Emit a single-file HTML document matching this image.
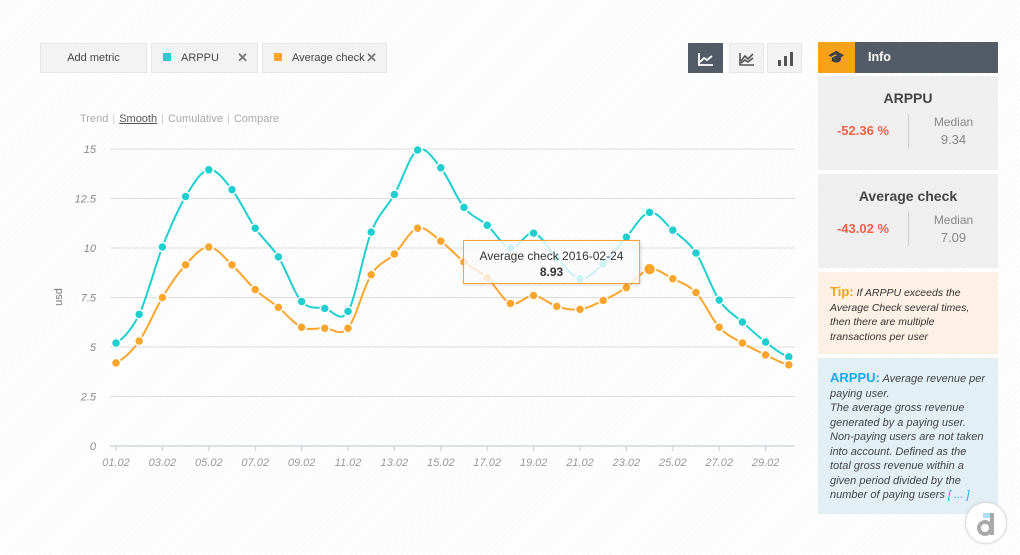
<!DOCTYPE html>
<html><head><meta charset="utf-8">
<style>
*{box-sizing:border-box;margin:0;padding:0}
body{width:1020px;height:555px;overflow:hidden;font-family:"Liberation Sans",sans-serif;background:repeating-linear-gradient(135deg,#fff 0,#fff 3px,#f8f8f8 3px,#f8f8f8 4px);position:relative}
.btn{position:absolute;top:43px;height:30px;background:#f3f3f3;border:1px solid #e6e6e6;font-size:11px;color:#444;line-height:28px}
.sq{display:inline-block;width:8px;height:8px;margin:0 10px 0 11px;vertical-align:-0px}
.x{position:absolute;right:9px;top:0;font-size:13px;color:#777;font-weight:bold}
.ib{position:absolute;top:43px;width:35px;height:30px;background:#f3f3f3;border:1px solid #e6e6e6}
.panel{position:absolute;left:818px;width:180px}
.hd{top:42px;height:31px;background:#535b66;color:#fff;font-size:12.5px;font-weight:bold;line-height:31px}
.box{background:#efefef}
.t{position:absolute;width:100%;text-align:center;font-weight:bold;color:#444;font-size:14px}
.pct{position:absolute;left:0;width:90px;text-align:center;color:#f2614c;font-weight:bold;font-size:13px}
.med{position:absolute;left:90px;width:90px;text-align:center;color:#888;font-size:12px;line-height:17px;border-left:1px solid #ccc}
.txt{font-size:10.5px;font-style:italic;color:#333;line-height:14.5px;padding:13px 12px}
.sep{color:#ccc;margin:0 4px}
</style></head><body>
<div class="btn" style="left:40px;width:107px;text-align:center">Add metric</div>
<div class="btn" style="left:151px;width:107px"><span class="sq" style="background:#1fcfcf"></span>ARPPU<span class="x">✕</span></div>
<div class="btn" style="left:262px;width:125px"><span class="sq" style="background:#fba52d"></span>Average check<span class="x">✕</span></div>
<div class="ib" style="left:688px;background:#535b66;border-color:#535b66"><svg width="35" height="30"><path d="M10 9V21H24M11 18L15 14L18 16L23 12" stroke="#fff" stroke-width="1.8" fill="none"/></svg></div>
<div class="ib" style="left:729px"><svg width="35" height="30"><path d="M10 9V21H24M11 17L15 12L18 15L23 10M11 19L15 16L18 18L23 14" stroke="#555" stroke-width="1.6" fill="none"/></svg></div>
<div class="ib" style="left:767px"><svg width="35" height="30"><rect x="10" y="16" width="3" height="6" fill="#555"/><rect x="16" y="12" width="3" height="10" fill="#555"/><rect x="22" y="8" width="3" height="14" fill="#555"/></svg></div>
<div style="position:absolute;left:80px;top:113px;font-size:11px;color:#aaa">
<span>Trend</span><span class="sep">|</span><span style="color:#555;text-decoration:underline">Smooth</span><span class="sep">|</span><span>Cumulative</span><span class="sep">|</span><span>Compare</span></div>
<svg id="chart" width="1020" height="555" style="position:absolute;left:0;top:0"></svg>
<div style="position:absolute;left:463px;top:240px;width:177px;height:44px;background:rgba(250,250,250,0.8);border:1px solid #f6a535;text-align:center;font-size:12px;color:#333;padding-top:7px;line-height:16px;box-shadow:1px 1px 3px rgba(0,0,0,.15)">Average check 2016-02-24<br><b>8.93</b></div>
<div class="panel hd"><span style="display:inline-block;width:37px;height:31px;background:#f7a21b;vertical-align:top;text-align:center;font-size:14px">🎓</span><span style="margin-left:13px">Info</span></div>
<div class="panel box" style="top:76px;height:94px"><div class="t" style="top:14px">ARPPU</div><div class="pct" style="top:47px">-52.36 %</div><div class="med" style="top:38px;height:34px">Median<br><span style="font-size:13px">9.34</span></div></div>
<div class="panel box" style="top:174px;height:94px"><div class="t" style="top:14px">Average check</div><div class="pct" style="top:47px">-43.02 %</div><div class="med" style="top:38px;height:34px">Median<br><span style="font-size:13px">7.09</span></div></div>
<div class="panel txt" style="top:272px;height:82px;background:#fdf1e6"><b style="color:#f7a21b;font-style:normal;font-size:13px">Tip:</b> If ARPPU exceeds the Average Check several times, then there are multiple transactions per user</div>
<div class="panel txt" style="top:358px;height:156px;background:#e2eff5;color:#444;font-size:11px"><b style="color:#1aa9e6;font-style:normal;font-size:13px">ARPPU:</b> Average revenue per paying user.<br>The average gross revenue generated by a paying user. Non-paying users are not taken into account. Defined as the total gross revenue within a given period divided by the number of paying users <span style="color:#1aa9e6">[ ... ]</span></div>
<div style="position:absolute;left:965px;top:502px;width:42px;height:42px;border-radius:50%;background:#fff;border:1px solid #ddd;box-shadow:0 0 3px rgba(0,0,0,.1)"><svg width="42" height="42"><rect x="17" y="10" width="7" height="5" fill="#aee0f5"/><circle cx="19" cy="25" r="6" stroke="#aaa" stroke-width="4" fill="none"/><rect x="24" y="10" width="4" height="22" fill="#aaa"/></svg></div>
<script>
const categories=["01.02","02.02","03.02","04.02","05.02","06.02","07.02","08.02","09.02","10.02","11.02","12.02","13.02","14.02","15.02","16.02","17.02","18.02","19.02","20.02","21.02","22.02","23.02","24.02","25.02","26.02","27.02","28.02","29.02","01.03"];
const arppu=[5.2,6.65,10.05,12.6,13.95,12.95,11.0,9.55,7.3,6.95,6.8,10.8,12.7,14.95,14.05,12.05,11.15,10.0,10.75,9.5,8.45,9.2,10.55,11.8,10.9,9.75,7.37,6.26,5.25,4.5];
const avgCheck=[4.2,5.3,7.5,9.15,10.05,9.15,7.9,7.0,6.0,5.95,5.95,8.65,9.7,11.0,10.35,9.3,8.5,7.2,7.6,7.05,6.9,7.35,8.0,8.93,8.45,7.75,6.0,5.2,4.6,4.1];
const yTicks=[0,2.5,5,7.5,10,12.5,15];
const NS="http://www.w3.org/2000/svg",svg=document.getElementById("chart");
const x0=116,dx=23.2,yb=446,ky=19.8;
const X=i=>x0+i*dx, Y=v=>yb-v*ky;
function mk(t,a,p){const e=document.createElementNS(NS,t);for(const k in a)e.setAttribute(k,a[k]);(p||svg).appendChild(e);return e;}
yTicks.forEach(v=>{
 const l=mk("line",{x1:110,x2:795,y1:Y(v),y2:Y(v),stroke:v===0?"#d0d6e0":"#dcdcdc","stroke-width":v===0?1.5:1});
 
 
 const t=mk("text",{x:96,y:Y(v)+4,"text-anchor":"end","font-size":11,"font-style":"italic",fill:"#888"});
 t.textContent=v;
 
 
});
const yt=mk("text",{x:62,y:297,"font-size":11,fill:"#777",transform:"rotate(-90 62 297)","text-anchor":"middle"});yt.textContent="usd";


categories.forEach((c,i)=>{
 if(i%2)return;
 mk("line",{x1:X(i),x2:X(i),y1:yb,y2:yb+5,stroke:"#c8d0dc"});
 const t=mk("text",{x:X(i),y:466,"text-anchor":"middle","font-size":11,"font-style":"italic",fill:"#999"});
 t.textContent=c;
 
 
});
function path(vals){let d="M"+X(0)+" "+Y(vals[0]);for(let i=0;i<vals.length-1;i++){const p0=vals[Math.max(0,i-1)],p1=vals[i],p2=vals[i+1],p3=vals[Math.min(vals.length-1,i+2)];
 d+=` C${X(i)+dx/3} ${Y(p1)+(Y(p2)-Y(p0))/6} ${X(i+1)-dx/3} ${Y(p2)-(Y(p3)-Y(p1))/6} ${X(i+1)} ${Y(p2)}`;}return d;}
[[arppu,"#1fcfcf","arppu"],[avgCheck,"#fba52d","average-check"]].forEach(([vals,col,nm])=>{
 const p=mk("path",{d:path(vals),stroke:col,"stroke-width":2,fill:"none"});
 
 
 vals.forEach((v,i)=>{const big=nm==="average-check"&&i===23;
  const c=mk("circle",{cx:X(i),cy:Y(v),r:big?6:4.5,fill:col,stroke:"#fff","stroke-width":1.5});
  
  });
});
</script>
</body></html>
